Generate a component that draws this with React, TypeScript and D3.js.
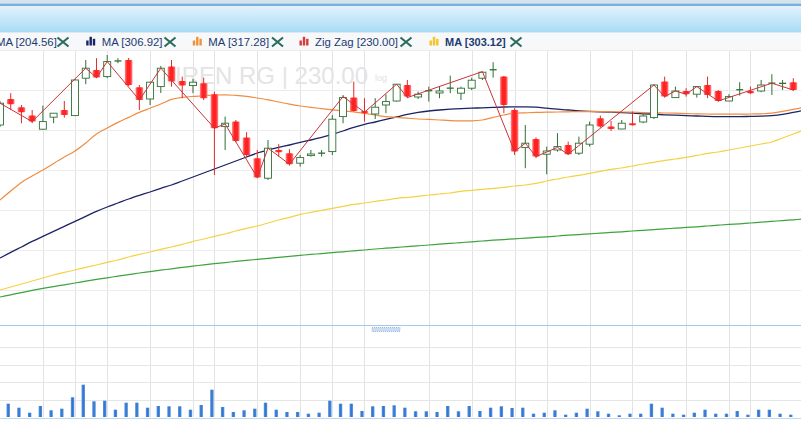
import React from 'react';
import * as d3 from 'd3';

// ---- data ----
const opens = [212.5,225.5,221.4,217.2,210.4,216.4,220,217.2,235.9,240,
236.7,244.3,245,231.4,225.5,231.7,241.7,234.5,232.2,233.4,
227.9,211.7,214.2,206.2,195.9,185.9,200,198.4,193.4,197.2,
198.2,199.2,216.7,226.2,219.5,218,222.5,224.5,232.5,226.5,
229.4,228.5,230.7,228.4,230.9,235.9,239.8,236.7,220,201.2,
205.5,197.9,200,202.5,198.4,202.9,215.9,211.7,210.5,213.4,
214,216.2,234.2,226.2,229.5,227.9,232.5,229.5,224.5,229.8,
229.5,229.5,233.2,233.2,233.9];
const highs = [224.5,228.4,222.5,220,222.2,218.4,224.5,235.5,245,245.9,
247.5,245.9,246,232.5,234.2,242,245,236.7,235.5,236.2,
229.2,216.7,215,208.9,200,205,202.9,200.4,197.5,200,
200,217.5,227.5,234.2,225.9,225.9,227.9,233,235,229.2,
231.7,231.7,237.2,231.7,236.2,239.2,243.9,237,220.9,212.5,
206.3,201.7,208.4,204.2,206.7,214.2,217.2,214.5,215,219.2,
217.9,232.9,236.7,231.7,230.9,232,236.7,230,227.9,233.9,
231.7,235,237.9,235,235.9];
const lows = [211.5,220,213.4,213.4,210,213.4,216.2,217,232.9,235.9,
235.9,243.4,232,220,222.5,228.5,231.7,225.9,228.4,225,
187.5,200,203.9,196.7,185.9,185,196.7,192.2,191.7,196.7,
196.7,197.5,213.4,219.2,214.2,215.5,218.4,224.2,225.9,225.5,
224.2,225.9,228.4,225,230,235,236.2,218.4,197.5,190.9,
195.9,187.9,199.2,197.5,197.5,201.7,211.2,209.5,210.4,212.2,
213.4,215.5,226.2,226,226.7,226.2,225.9,224.2,224.4,227.2,
227.9,228.9,227.5,230,229.5];
const closes = [223.4,222.9,218.9,214.2,214.2,218.4,217.5,235,240.9,236.2,
244.2,244.6,232.5,225,233.9,240.9,234.2,232.2,233.9,225.9,
210.9,213.4,204.5,197.5,186.2,200.9,198.9,192.9,196.2,198,
198.5,215.4,226.2,219.5,218.4,221.4,224.2,232.9,226.7,227.9,
229.7,229.5,231,230.9,234.9,238.9,240.2,222.5,199.2,203.4,
196.7,199.5,201.7,197.9,203.4,212.5,211.7,210.5,213.4,212.5,
217,232.5,226.7,229.5,227.9,231.7,227.5,224.5,226.7,230.2,
228.4,232.5,233.5,233.4,230];
const volumes = [120,133,93,43,110,67,83,197,323,157,
163,73,143,143,93,110,107,107,73,120,
273,100,50,67,83,143,73,50,50,33,
43,163,133,133,60,107,110,117,93,57,
57,50,110,57,110,60,93,107,90,93,
33,43,67,23,43,83,57,33,17,33,
33,133,93,33,23,43,73,33,33,60,
23,73,73,33,23];

const maGreen = [126.5,127.6,128.7,129.8,130.8,131.7,132.6,133.5,134.4,135.3,
136.1,136.9,137.7,138.5,139.2,139.9,140.6,141.3,141.9,142.6,
143.2,143.7,144.3,144.8,145.3,145.8,146.3,146.8,147.3,147.8,
148.2,148.7,149.1,149.6,150,150.5,150.9,151.3,151.7,152.1,
152.5,152.9,153.3,153.7,154.1,154.5,154.9,155.2,155.6,155.9,
156.3,156.6,157,157.4,157.7,158.1,158.4,158.8,159.1,159.5,
159.8,160.2,160.6,160.9,161.3,161.6,162,162.4,162.8,163.1,
163.5,163.9,164.3,164.7,165.1];
const maYellow = [130,131.5,133,134.5,136,137.5,138.8,140,141.3,142.5,
143.8,145,146.5,147.8,149,150.3,151.5,152.8,154.3,155.5,
156.8,158,159.5,160.8,162,163.5,165,166.3,167.8,168.8,
169.8,170.8,171.8,172.8,173.5,174.3,175,175.8,176.3,176.8,
177.5,178,178.5,179.3,179.8,180.3,180.8,181.3,182,182.5,
183.3,184.5,185.5,186.5,187.3,188.3,189.3,190.3,191,192,
193,193.8,194.8,195.5,196.3,197.3,198.3,199,200,201,
202,203,204,206,208];
const maNavy = [146,148.8,151.5,154.3,156.8,159.3,161.8,164.3,166.8,169.3,
171.5,173.5,175.5,177.3,179,180.8,182.5,184.5,186.5,188.5,
190.5,192.5,194.5,196.5,198.5,200,201.3,202.5,203.8,205,
206.3,207.8,209.5,211.3,212.8,214,215.3,216.5,217.8,218.8,
219.5,220,220.4,220.7,220.9,221.1,221.3,221.5,221.6,221.6,
221.4,220.9,220.4,220,219.6,219.3,219.1,218.9,218.7,218.4,
218.1,217.9,217.6,217.4,217.2,217,216.8,216.7,216.7,216.7,
216.8,216.9,217.2,217.8,218.8];
const maOrange = [175,179.5,183.8,187,190,193.3,196.5,199.5,203.5,208,
211,213.8,216.3,218.8,220.9,223,225.3,226.3,226.8,227.1,
227.5,227.6,227.3,226.8,226,225.1,224,222.9,222,221.3,
220.7,220.1,219.5,219.1,218.3,217.5,216.7,216.3,215.9,215.5,
215.3,215,214.7,214.6,214.6,215,216.3,217.5,218.4,218.6,
218.8,218.9,219,219.1,219.2,219.2,219.2,219.1,219,218.9,
218.7,218.6,218.5,218.4,218.2,218.1,218,217.9,217.9,217.9,
218,218.1,218.4,219.3,220.3];

const zigIdx = [0,3,8,9,10,13,15,20,21,24,25,27,32,34,37,38,45,48,49,50,52,53,61,62,63,64,65,67,72,74];
const zigVal = [223.4,214.2,240.9,236.2,244.2,225,240.9,210.9,213,186.2,200.9,192.9,226.7,218.9,232.9,226.2,239.2,199.2,203.4,196.7,201.3,197.9,232.5,226.7,229.5,227.9,231.7,224.5,233.4,230];

const gridIdx = [4,7,10,14,18,20,24,28,31,34,40,44,48,51,55,59,64,68,70];

const legendLabels = ['MA [204.56]','MA [306.92]','MA [317.28]','Zig Zag [230.00]','MA [303.12]'];
const legendColors = ['#3a9a3a','#1b2466','#f0913a','#d83a3a','#f2c522'];
const legendX = [-4, 101.7, 208.3, 315, 445];
const legendCloseX = [57.5, 164.5, 272, 400.5, 510.5];

const watermark = 'IREN RG | 230.00';

export default function App() {
  const x = d3.scaleLinear().domain([0, 74]).range([0, 793.3]);
  const y = d3.scaleLinear().domain([112.5, 247.5]).range([325, 55]);
  const v = d3.scaleLinear().domain([0, 700]).range([417, 347]);
  const priceTicks = d3.range(130, 251, 20);
  const volTicks = [175, 350, 525, 700];
  const xEnd = x.invert(802);
  // line continues to the right edge of the plot along its last segment
  const maLine = (arr: number[]) => {
    const n = arr.length;
    const pts: [number, number][] = arr.map((d, i) => [x(i), y(d)]);
    const t = xEnd - (n - 1);
    pts.push([x(xEnd), y(arr[n - 1] + (arr[n - 1] - arr[n - 2]) * t)]);
    return d3.line().curve(d3.curveMonotoneX)(pts) || '';
  };
  const zig = d3.line<number>().x((d) => x(d)).y((_, k) => y(zigVal[k]))(zigIdx) || '';
  const green = '#2f6f35';
  const font = '"Liberation Sans", Arial, sans-serif';

  return (
    <svg width={801} height={421} style={{ position: 'absolute', left: 0, top: 0, background: '#fff' }}
      xmlns="http://www.w3.org/2000/svg">
      <defs>
        <linearGradient id="hdr" x1="0" y1="0" x2="0" y2="1">
          <stop offset="0" stopColor="#e2f2fc" />
          <stop offset="1" stopColor="#a9dbf5" />
        </linearGradient>
        <linearGradient id="redc" x1="0" y1="0" x2="1" y2="0">
          <stop offset="0" stopColor="#ff8a8a" />
          <stop offset="0.3" stopColor="#ff2222" />
          <stop offset="0.7" stopColor="#ff2222" />
          <stop offset="1" stopColor="#ff8a8a" />
        </linearGradient>
        <linearGradient id="volg" x1="0" y1="0" x2="1" y2="0">
          <stop offset="0" stopColor="#5b95e0" />
          <stop offset="0.5" stopColor="#2f74d0" />
          <stop offset="1" stopColor="#5b95e0" />
        </linearGradient>
        <clipPath id="plot"><rect x={0} y={50} width={801} height={275} /></clipPath>
      </defs>

      {/* header band */}
      <rect x={0} y={0} width={801} height={3.5} fill="#d4e4ef" />
      <rect x={0} y={3.5} width={801} height={2.5} fill="#7dafd8" />
      <rect x={0} y={6} width={801} height={26} fill="url(#hdr)" />
      <rect x={0} y={32} width={801} height={18} fill="#f6f8fa" />
      <line x1={0} x2={801} y1={32.5} y2={32.5} stroke="#dde8f0" />

      {/* grid */}
      {gridIdx.map(g => (
        <line key={'g' + g} x1={Math.round(x(g)) + 0.5} x2={Math.round(x(g)) + 0.5} y1={50} y2={417}
          stroke="#e3e3e3" />
      ))}
      {priceTicks.map(t => (
        <line key={'p' + t} x1={0} x2={801} y1={Math.round(y(t)) + 0.5} y2={Math.round(y(t)) + 0.5}
          stroke="#ececec" />
      ))}
      {volTicks.map(t => (
        <line key={'v' + t} x1={0} x2={801} y1={Math.round(v(t)) + 0.5} y2={Math.round(v(t)) + 0.5}
          stroke="#e6e6e6" />
      ))}
      <line x1={0} x2={801} y1={325.5} y2={325.5} stroke="#a9c8e6" />
      <line x1={0} x2={801} y1={418.5} y2={418.5} stroke="#c3d8ec" />
      <rect x={372} y={327.5} width={28} height={4} fill="#c9dcf0" stroke="#86aede" strokeWidth={0.8}
        strokeDasharray="1 1" />

      {/* watermark */}
      <text x={368} y={83.5} textAnchor="end" fontFamily={font} fontSize={24} fill="#e4e4e4">{watermark}</text>
      <text x={375} y={81} fontFamily={font} fontSize={9} fill="#e2e2e2">log</text>

      <g clipPath="url(#plot)">
        {/* moving averages */}
        <path d={maLine(maGreen)} fill="none" stroke="#3da33d" strokeWidth={1.2} />
        <path d={maLine(maYellow)} fill="none" stroke="#f4d245" strokeWidth={1.2} />
        <path d={maLine(maNavy)} fill="none" stroke="#1b2466" strokeWidth={1.3} />
        <path d={maLine(maOrange)} fill="none" stroke="#f08c40" strokeWidth={1.2} />

        {/* candles */}
        {opens.map((o, i) => {
          const c = closes[i];
          const cx = x(i);
          const up = c >= o;
          const top = y(Math.max(o, c));
          const bot = y(Math.min(o, c));
          const bh = Math.max(bot - top, 1);
          if (up) {
            const doji = bot - top < 1.5;
            return (
              <g key={'c' + i}>
                <line x1={cx} x2={cx} y1={y(highs[i])} y2={y(lows[i])} stroke={green} strokeWidth={1} />
                {doji ? (
                  <rect x={cx - 3.5} y={top - 0.5} width={7} height={1.3} fill={green} />
                ) : (
                  <rect x={cx - 3.5} y={top} width={7} height={bh} fill="#fdfefd" stroke={green} strokeWidth={0.9} />
                )}
              </g>
            );
          }
          return (
            <g key={'c' + i}>
              <line x1={cx} x2={cx} y1={y(highs[i])} y2={y(lows[i])} stroke="#e02a2a" strokeWidth={1} />
              <rect x={cx - 3.8} y={top} width={7.6} height={Math.max(bh, 2)} fill="url(#redc)" rx={1} />
            </g>
          );
        })}

        {/* zig zag */}
        <path d={zig} fill="none" stroke="#c8343a" strokeWidth={1} />
      </g>

      {/* volume */}
      {volumes.map((vol, i) => (
        <rect key={'vb' + i} x={x(i) - 4.2} y={v(vol)} width={3.4} height={417 - v(vol)} fill="url(#volg)" />
      ))}

      {/* legend */}
      {legendLabels.map((lab, k) => {
        const tx = legendX[k];
        const ix = tx - 15.5;
        const cx = legendCloseX[k];
        return (
          <g key={'l' + k}>
            <rect x={ix} y={40.5} width={2.4} height={5} fill={legendColors[k]} />
            <rect x={ix + 3.3} y={36.8} width={2.4} height={8.7} fill={legendColors[k]} />
            <rect x={ix + 6.6} y={38.8} width={2.4} height={6.7} fill={legendColors[k]} />
            <text x={tx} y={45.7} fontFamily={font} fontSize={k === 4 ? 11 : 11.4}
              fontWeight={k === 4 ? 'bold' : 'normal'} fill="#1e3a70">{lab}</text>
            <path d={`M${cx},${37.5}L${cx + 11},${46.5}M${cx + 11},${37.5}L${cx},${46.5}`}
              stroke="#2c6b5c" strokeWidth={2.1} />
          </g>
        );
      })}
    </svg>
  );
}
